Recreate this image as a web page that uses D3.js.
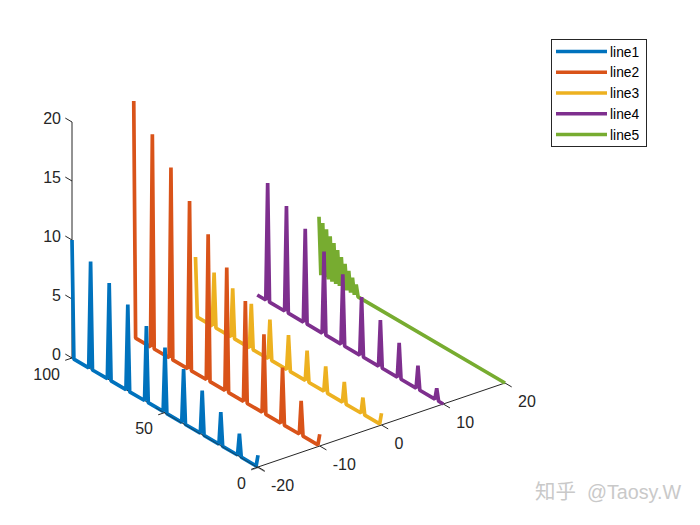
<!DOCTYPE html>
<html><head><meta charset="utf-8">
<script src="https://cdn.jsdelivr.net/npm/d3@7/dist/d3.min.js"></script>
<style>html,body{margin:0;padding:0;background:#fff;overflow:hidden}svg{display:block}</style>
</head><body><svg id="c" width="700" height="525"></svg>
<script>
const seriesNames = ["line1","line2","line3","line4","line5"];
const seriesColors = ["#0072BD","#D95319","#EDB120","#7E2F8E","#77AC30"];
const seriesX = [-20,-10,0,10,20];
const y1 = [0,1,9,10,11,19,20,21,29,30,31,39,40,41,49,50,51,59,60,61,69,70,71,79,80,81,89,90,91,99,100];
const z1 = [1,0,0,1.9,0,0,2.8,0,0,3.7,0,0,4.6,0,0,5.5,0,0,6.4,0,0,7.3,0,0,8.2,0,0,9.1,0,0,10];
const y2 = y1;
const z2 = [1,0,0,2.9,0,0,4.8,0,0,6.7,0,0,8.6,0,0,10.5,0,0,12.4,0,0,14.3,0,0,16.2,0,0,18.1,0,0,20];
const y3 = y1;
const z3 = [1,0,0,1.4,0,0,1.8,0,0,2.2,0,0,2.6,0,0,3,0,0,3.4,0,0,3.8,0,0,4.2,0,0,4.6,0,0,5];
const y4 = [0,2.5,3.5,4.5,12.6,13.6,14.6,22.7,23.7,24.7,32.8,33.8,34.8,42.9,43.9,44.9,53,54,55,63.1,64.1,65.1,73.2,74.2,75.2,83.3,84.3,85.3,93.4,94.4,95.4,100];
const z4 = [0,0,1,0,0,2,0,0,3,0,0,4,0,0,5,0,0,6,0,0,7,0,0,8,0,0,9,0,0,10,0,0];
const y5 = [0,79,80,81,82,83,84,85,86,87,88,89,90,91,92,93,94,95,96,97,98,99,100];
const z5 = [0,0,0.95,0,1.35,0,1.75,0,2.15,0,2.55,0,2.95,0,3.35,0,3.75,0,4.15,0,4.5,0,4.85];
const seriesY = [y1,y2,y3,y4,y5];
const seriesZ = [z1,z2,z3,z4,z5];
const xTicks = [-20,-10,0,10,20];
const yTicks = [0,50,100];
const zTicks = [0,5,10,15,20];

const svg = d3.select("#c");
const FONT = "'Liberation Sans',Arial,sans-serif", INK = "#262626";
const ox = 258, oy = 467;
const xToH = d3.scaleLinear().domain([-20,20]).range([0,247]);
const xToV = d3.scaleLinear().domain([-20,20]).range([0,-84]);
const yToH = d3.scaleLinear().domain([0,100]).range([0,-186]);
const yToV = d3.scaleLinear().domain([0,100]).range([0,-109]);
const zToV = d3.scaleLinear().domain([0,20]).range([0,-236]);
const px = (x,y) => ox + xToH(x) + yToH(y);
const py = (x,y,z) => oy + xToV(x) + yToV(y) + zToV(z);

const axes = svg.append("g").attr("fill","none").attr("stroke",INK).attr("stroke-width",1);
function seg(g,a,b){g.append("line").attr("x1",px(a[0],a[1])).attr("y1",py(a[0],a[1],a[2]))
  .attr("x2",px(b[0],b[1])).attr("y2",py(b[0],b[1],b[2]));}
seg(axes,[-20,0,0],[20,0,0]);
seg(axes,[-20,0,0],[-20,100,0]);
seg(axes,[-20,100,0],[-20,100,20]);
xTicks.forEach(t=>seg(axes,[t,0,0],[t,-3.6,0]));
yTicks.forEach(t=>seg(axes,[-20,t,0],[-21.1,t,0]));
zTicks.forEach(t=>seg(axes,[-20,100,t],[-20,103.6,t]));

const line = d3.line().x(d=>d[0]).y(d=>d[1]);
d3.range(4,-1,-1).forEach(i=>{
  const pts = seriesY[i].map((y,k)=>[px(seriesX[i],y),py(seriesX[i],y,seriesZ[i][k])]);
  svg.append("path").attr("d",line(pts)).attr("fill","none").attr("stroke",seriesColors[i])
    .attr("stroke-width",3.7).attr("stroke-linejoin","bevel").attr("stroke-linecap","butt");
});
// the y axis shows through the front line near the corner
const over = svg.append("g").attr("stroke",INK).attr("stroke-width",1).attr("stroke-opacity",0.6)
  .attr("transform","translate(0,0.7)");
seg(over,[-20,0,0],[-20,55,0]);
seg(over,[-20,0,0],[-21.1,0,0]);
seg(over,[-20,0,0],[-20,-3.6,0]);

const text = (x,y,s,anchor,size,fill) => svg.append("text").attr("x",x).attr("y",y).attr("text-anchor",anchor)
  .attr("font-family",FONT).attr("font-size",size).attr("fill",fill||INK).text(s);
xTicks.forEach(t=>text(px(t,0)+13,py(t,0,0)+24,t,"start",16));
yTicks.forEach(t=>text(px(-20,t)-12,py(-20,t,0)+21.5,t,"end",16));
zTicks.forEach(t=>text(61,py(-20,100,t)+1.5,t,"end",16));

svg.append("rect").attr("x",551.5).attr("y",39.5).attr("width",95).attr("height",107)
  .attr("fill","#fff").attr("stroke",INK).attr("stroke-width",1);
const legendY = d3.scalePoint().domain(seriesNames).range([51.5,134.5]);
seriesNames.forEach((n,i)=>{
  svg.append("line").attr("x1",556).attr("x2",607).attr("y1",legendY(n)).attr("y2",legendY(n))
    .attr("stroke",seriesColors[i]).attr("stroke-width",3.4);
  text(610,legendY(n)+5,n,"start",13.8,"#000");
});

svg.append("text").attr("x",535).attr("y",499).attr("font-family","'Noto Sans CJK SC',sans-serif")
  .attr("font-size",20.5).attr("fill","#c9c9c9").text("知乎");
text(587,499,"@Taosy.W","start",19.7,"#c9c9c9");
</script></body></html>
